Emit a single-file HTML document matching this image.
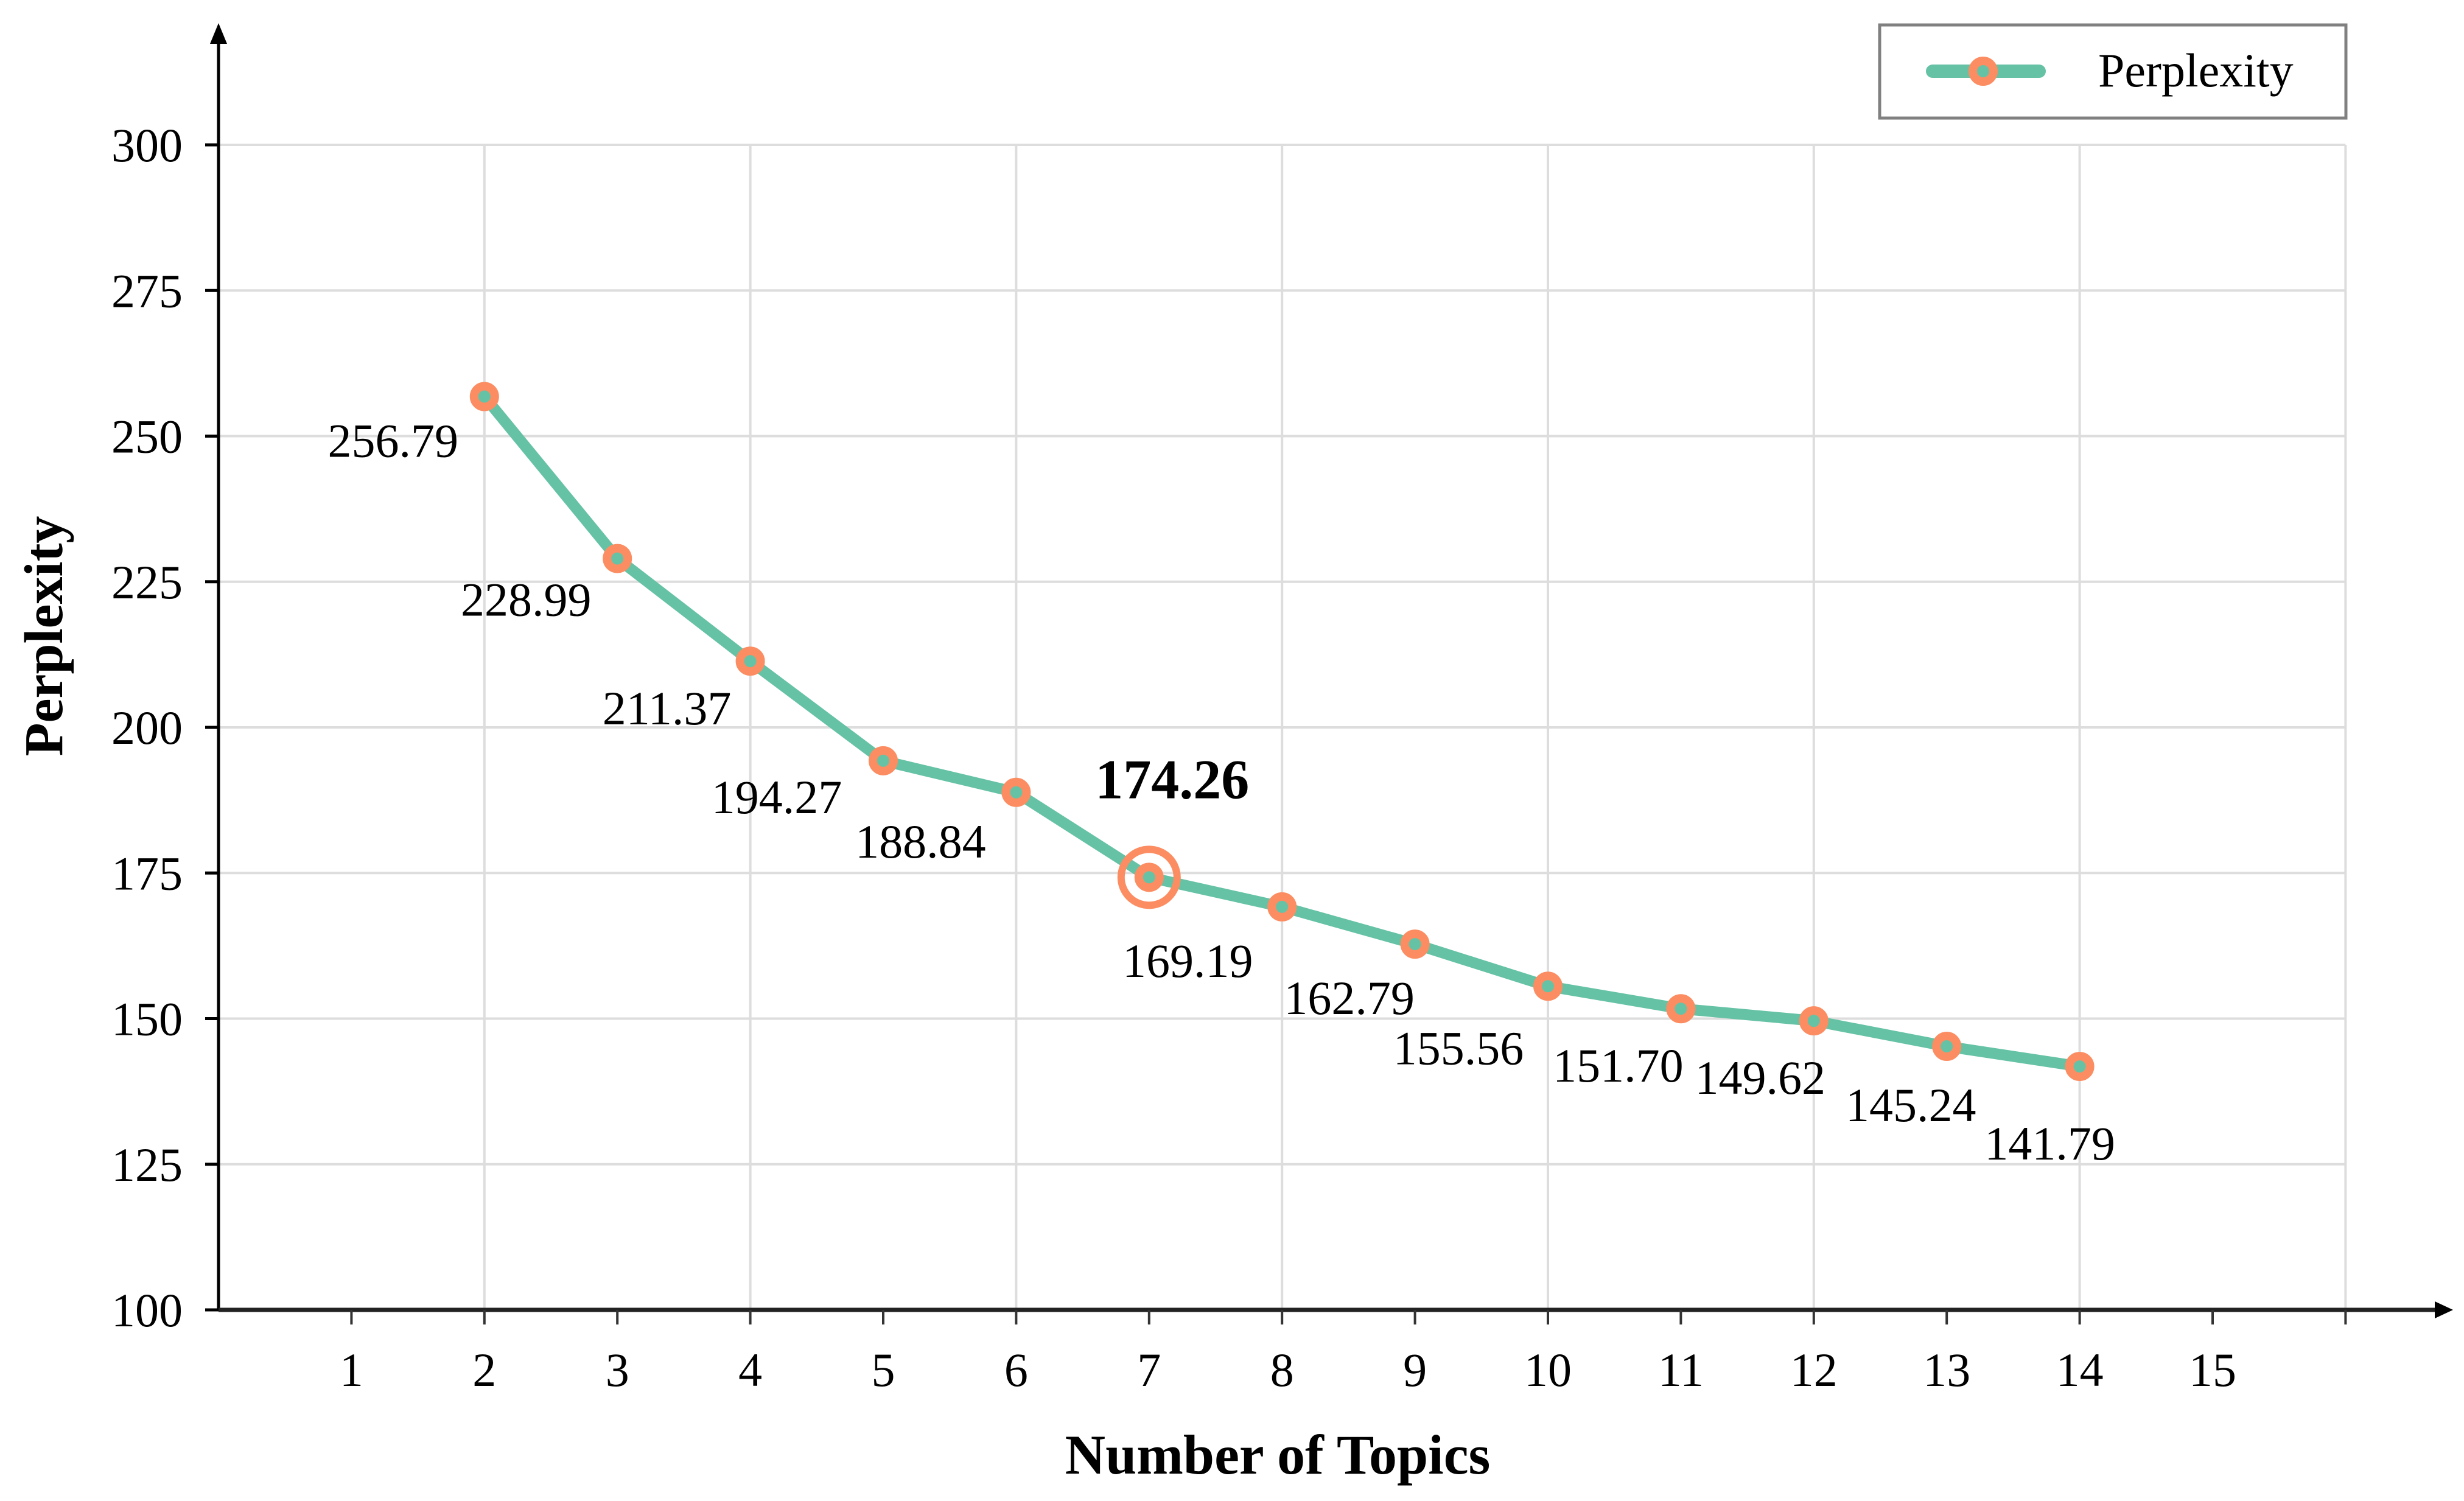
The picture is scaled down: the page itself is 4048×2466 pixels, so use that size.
<!DOCTYPE html>
<html><head><meta charset="utf-8"><style>
html,body{margin:0;padding:0;background:#fff}
svg{display:block;font-family:"Liberation Serif",serif}
</style></head><body>
<svg width="4048" height="2466" viewBox="0 0 4048 2466" xmlns="http://www.w3.org/2000/svg">
<g id="grid"></g>
<g id="axes"></g>
<g id="series"></g>
<g id="labels"></g>
<text x="0" y="0" transform="translate(102,1045) rotate(-90)" text-anchor="middle" font-weight="bold" font-size="90">Perplexity</text>
<text x="2099" y="2421" text-anchor="middle" font-weight="bold" font-size="92">Number of Topics</text>
<g>
<rect x="3088" y="41" width="766" height="153" fill="#fff" stroke="#808080" stroke-width="5"/>
<line x1="3175" y1="117" x2="3350" y2="117" stroke="#66c2a5" stroke-width="22" stroke-linecap="round"/>
<circle cx="3258" cy="117" r="17" fill="#66c2a5" stroke="#fc8d62" stroke-width="14"/>
<text x="3447" y="142" font-size="78">Perplexity</text>
</g>
</svg>
<script>
const topics = [2,3,4,5,6,7,8,9,10,11,12,13,14];
const perplexity = [256.79,228.99,211.37,194.27,188.84,174.26,169.19,162.79,155.56,151.70,149.62,145.24,141.79];
const yTicks = [100,125,150,175,200,225,250,275,300];
const xTicks = [1,2,3,4,5,6,7,8,9,10,11,12,13,14,15];
const highlightTopic = 7;
const NS = "http://www.w3.org/2000/svg";
const X0 = 359, XU = 218.4;
const Y100 = 2152, Y300 = 238;
function xs(v){ return X0 + v*XU; }
function ys(v){ return Y100 - (v-100)*(Y100-Y300)/200; }
function mk(tag, attrs, parent){
  const e = document.createElementNS(NS, tag);
  for (const k in attrs) e.setAttribute(k, attrs[k]);
  parent.appendChild(e); return e;
}
const grid = document.getElementById('grid');
const axes = document.getElementById('axes');
const series = document.getElementById('series');
const labels = document.getElementById('labels');
yTicks.forEach(t => {
  if (t === 100) return;
  const l = mk('line', {x1:X0, x2:xs(16), y1:ys(t), y2:ys(t), stroke:'#dddddd', 'stroke-width':4}, grid);
  
  
});
for (let v = 2; v <= 16; v += 2) {
  const l = mk('line', {x1:xs(v), x2:xs(v), y1:ys(300), y2:Y100, stroke:'#dddddd', 'stroke-width':4}, grid);
  
  
}
const ya = mk('line', {x1:X0, x2:X0, y1:Y100, y2:60, stroke:'#000', 'stroke-width':5}, axes);


const yar = mk('path', {d:`M${X0-14},72 L${X0},38 L${X0+14},72 Z`, fill:'#000'}, axes);


const xa = mk('line', {x1:X0, x2:4010, y1:Y100, y2:Y100, stroke:'#222', 'stroke-width':7}, axes);


const xar = mk('path', {d:`M4000,${Y100-14} L4030,${Y100} L4000,${Y100+14} Z`, fill:'#000'}, axes);


yTicks.forEach(t => {
  const tk = mk('line', {x1:X0-22, x2:X0, y1:ys(t), y2:ys(t), stroke:'#000', 'stroke-width':5}, axes);
  
  
  const tx = mk('text', {x:300, y:ys(t)+27, 'text-anchor':'end', 'font-size':78}, axes);
  tx.textContent = t;
  
  
});
for (let v = 1; v <= 16; v++) {
  const tk = mk('line', {x1:xs(v), x2:xs(v), y1:Y100, y2:Y100+24, stroke:'#333', 'stroke-width':4}, axes);
  
  
}
xTicks.forEach(t => {
  const tx = mk('text', {x:xs(t), y:2277, 'text-anchor':'middle', 'font-size':78}, axes);
  tx.textContent = t;
  
  
});
const pts = topics.map((t,i) => xs(t)+','+ys(perplexity[i])).join(' ');
const pl = mk('polyline', {points:pts, fill:'none', stroke:'#66c2a5', 'stroke-width':18, 'stroke-linejoin':'round', 'stroke-linecap':'round'}, series);


const offs = [[-150,72],[-150,67],[-137,77],[-175,59],[-157,80],[0,0],[-155,88],[-108,88],[-147,101],[-103,93],[-88,93],[-59,96],[-49,126]];
topics.forEach((t,i) => {
  const cx = xs(t), cy = ys(perplexity[i]);
  if (t === highlightTopic) {
    const r = mk('circle', {cx:cx, cy:cy, r:46, fill:'none', stroke:'#fc8d62', 'stroke-width':12}, series);
    
    
  }
  const c = mk('circle', {cx:cx, cy:cy, r:17, fill:'#66c2a5', stroke:'#fc8d62', 'stroke-width':14}, series);
  
  
  let tx;
  if (t === highlightTopic) {
    tx = mk('text', {x:cx+38, y:cy-130, 'text-anchor':'middle', 'font-size':92, 'font-weight':'bold'}, labels);
  } else {
    tx = mk('text', {x:cx+offs[i][0], y:cy+offs[i][1]+27, 'text-anchor':'middle', 'font-size':78}, labels);
  }
  tx.textContent = perplexity[i].toFixed(2);
  
  
});
</script>
</body></html>
